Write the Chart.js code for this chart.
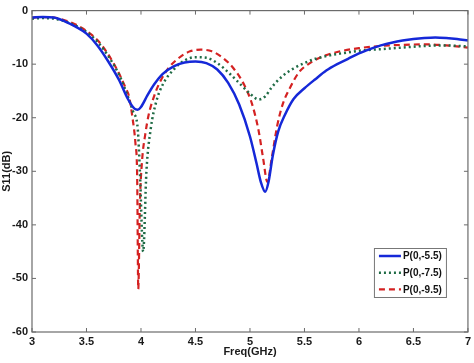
<!DOCTYPE html>
<html>
<head>
<meta charset="utf-8">
<script src="https://cdn.jsdelivr.net/npm/chart.js@4.4.1/dist/chart.umd.min.js"></script>
<style>
  html, body { margin: 0; padding: 0; background: #fff; }
  #wrap { width: 474px; height: 363px; }
</style>
</head>
<body>
<div id="wrap"><canvas id="c"></canvas></div>
<script>
// S11 curves (freq in GHz, S11 in dB)
const freqA = [3.0, 3.1, 3.2, 3.3, 3.4, 3.5, 3.6, 3.7, 3.8, 3.88, 3.94, 3.97, 4.0, 4.06, 4.12, 4.2, 4.3, 4.4, 4.5, 4.6, 4.7, 4.8, 4.9, 5.0, 5.06, 5.1, 5.14, 5.17, 5.21, 5.26, 5.32, 5.4, 5.5, 5.6, 5.7, 5.8, 5.9, 6.0, 6.1, 6.2, 6.3, 6.4, 6.5, 6.6, 6.7, 6.8, 6.9, 7.0];
const s11A  = [-1.3, -1.2, -1.3, -2.0, -3.0, -4.3, -6.5, -9.5, -13.0, -16.5, -18.3, -18.5, -18.0, -15.8, -13.8, -11.8, -10.4, -9.7, -9.5, -9.8, -11.0, -13.5, -17.5, -23.5, -28.5, -32.0, -33.8, -32.0, -27.0, -22.5, -19.5, -16.5, -14.5, -12.8, -11.2, -10.0, -9.0, -8.0, -7.2, -6.5, -6.0, -5.6, -5.3, -5.1, -5.0, -5.1, -5.3, -5.6];

const freqB = [3.0, 3.1, 3.2, 3.3, 3.4, 3.5, 3.6, 3.7, 3.8, 3.87, 3.93, 3.97, 3.99, 4.02, 4.05, 4.09, 4.14, 4.2, 4.3, 4.4, 4.5, 4.6, 4.7, 4.8, 4.9, 5.0, 5.08, 5.14, 5.2, 5.3, 5.4, 5.5, 5.6, 5.7, 5.8, 5.9, 6.0, 6.2, 6.4, 6.6, 6.8, 7.0];
const s11B  = [-1.5, -1.4, -1.5, -2.0, -2.8, -4.0, -5.8, -8.5, -12.0, -15.5, -19.0, -22.0, -30.0, -45.0, -30.0, -22.0, -17.0, -13.8, -11.0, -9.3, -8.7, -8.8, -9.8, -11.5, -13.5, -15.5, -16.6, -16.0, -14.3, -12.2, -10.8, -9.8, -9.0, -8.5, -8.1, -7.8, -7.5, -7.2, -6.9, -6.6, -6.5, -6.7];

const freqC = [3.0, 3.1, 3.2, 3.3, 3.4, 3.5, 3.6, 3.7, 3.8, 3.86, 3.89, 3.92, 3.95, 3.965, 3.975, 3.99, 4.01, 4.04, 4.07, 4.12, 4.17, 4.25, 4.35, 4.45, 4.55, 4.65, 4.75, 4.85, 4.95, 5.02, 5.08, 5.12, 5.16, 5.2, 5.25, 5.3, 5.37, 5.45, 5.55, 5.65, 5.75, 5.85, 6.0, 6.2, 6.4, 6.6, 6.8, 7.0];
const s11C  = [-1.3, -1.2, -1.3, -1.8, -2.6, -3.8, -5.5, -8.2, -11.8, -14.5, -16.0, -19.7, -25.0, -31.0, -52.0, -36.0, -28.0, -23.0, -19.5, -16.0, -13.5, -10.8, -8.8, -7.6, -7.3, -7.6, -8.8, -10.8, -14.0, -17.5, -22.5, -27.5, -32.0, -27.5, -21.5, -17.5, -14.3, -11.5, -9.8, -8.7, -8.0, -7.5, -7.0, -6.6, -6.4, -6.3, -6.5, -6.9];

const seriesLabels = ['P(0,-5.5)', 'P(0,-7.5)', 'P(0,-9.5)'];
const xTicks = [3, 3.5, 4, 4.5, 5, 5.5, 6, 6.5, 7];
const yTicks = [0, -10, -20, -30, -40, -50, -60];

const pts = (xs, ys) => xs.map((x, i) => ({ x: x, y: ys[i] }));

const tickFont = { family: 'Liberation Sans, Arial, sans-serif', size: 11, weight: 'bold' };
const frameColor = '#6b6b6b';

// MATLAB style frame: box on all sides with inward ticks
const framePlugin = {
  id: 'frame',
  afterDatasetsDraw(chart) {
    const { ctx, chartArea: a, scales } = chart;
    ctx.save();
    ctx.strokeStyle = frameColor;
    ctx.lineWidth = 1.2;
    ctx.strokeRect(a.left, a.top, a.right - a.left, a.bottom - a.top);
    ctx.lineWidth = 1;
    ctx.beginPath();
    xTicks.forEach(v => {
      const px = scales.x.getPixelForValue(v);
      ctx.moveTo(px, a.bottom); ctx.lineTo(px, a.bottom - 4);
      ctx.moveTo(px, a.top); ctx.lineTo(px, a.top + 4);
    });
    yTicks.forEach(v => {
      const py = scales.y.getPixelForValue(v);
      ctx.moveTo(a.left, py); ctx.lineTo(a.left + 4, py);
      ctx.moveTo(a.right, py); ctx.lineTo(a.right - 4, py);
    });
    ctx.stroke();
    ctx.restore();
  }
};

// legend box inside the plot, lower right
const legendPlugin = {
  id: 'boxLegend',
  afterDraw(chart) {
    const { ctx, chartArea: a } = chart;
    const left = a.right - 94, top = a.bottom - 84, w = 72, h = 49;
    ctx.save();
    ctx.fillStyle = '#fff';
    ctx.fillRect(left, top, w, h);
    ctx.strokeStyle = '#777';
    ctx.lineWidth = 1;
    ctx.strokeRect(left + 0.5, top + 0.5, w, h);
    ctx.font = 'bold 10px "Liberation Sans", Arial, sans-serif';
    ctx.textBaseline = 'middle';
    chart.data.datasets.forEach((ds, i) => {
      const y = top + 8 + i * 16.7;
      ctx.strokeStyle = ds.borderColor;
      ctx.lineWidth = ds.borderWidth;
      ctx.setLineDash(ds.borderDash || []);
      ctx.beginPath();
      ctx.moveTo(left + 5, y);
      ctx.lineTo(left + 27, y);
      ctx.stroke();
      ctx.setLineDash([]);
      ctx.fillStyle = '#111';
      ctx.fillText(ds.label, left + 29, y + 0.5);
    });
    ctx.restore();
  }
};

new Chart(document.getElementById('c'), {
  type: 'line',
  data: {
    datasets: [
      {
        label: seriesLabels[0],
        data: pts(freqA, s11A),
        borderColor: '#1528d8',
        borderWidth: 2.5,
        pointRadius: 0,
        cubicInterpolationMode: 'monotone',
        fill: false
      },
      {
        label: seriesLabels[1],
        data: pts(freqB, s11B),
        borderColor: '#1f6b45',
        borderWidth: 2.5,
        borderDash: [2, 3],
        pointRadius: 0,
        cubicInterpolationMode: 'monotone',
        fill: false
      },
      {
        label: seriesLabels[2],
        data: pts(freqC, s11C),
        borderColor: '#d42222',
        borderWidth: 2.2,
        borderDash: [6, 4],
        pointRadius: 0,
        cubicInterpolationMode: 'monotone',
        fill: false
      }
    ]
  },
  options: {
    responsive: true,
    maintainAspectRatio: false,
    animation: false,
    layout: { padding: { top: 5, right: 3, left: 0, bottom: 0 } },
    scales: {
      x: {
        type: 'linear',
        min: 3,
        max: 7,
        afterBuildTicks: s => { s.ticks = xTicks.map(v => ({ value: v })); },
        afterFit: s => { s.height = 31; },
        ticks: {
          font: tickFont,
          color: '#1a1a1a',
          padding: 3,
          maxRotation: 0,
          callback: v => String(v)
        },
        grid: { display: false, drawTicks: false },
        border: { display: false },
        title: {
          display: true,
          text: 'Freq(GHz)',
          font: tickFont,
          color: '#1a1a1a',
          padding: { top: 0, bottom: 4 }
        }
      },
      y: {
        type: 'linear',
        min: -60,
        max: 0,
        afterBuildTicks: s => { s.ticks = yTicks.map(v => ({ value: v })); },
        afterFit: s => { s.width = 32; },
        ticks: { font: tickFont, color: '#1a1a1a', padding: 4, callback: v => String(v) },
        grid: { display: false, drawTicks: false },
        border: { display: false },
        title: {
          display: true,
          text: 'S11(dB)',
          font: tickFont,
          color: '#1a1a1a',
          padding: { top: 0, bottom: 0 }
        }
      }
    },
    plugins: {
      legend: { display: false },
      tooltip: { enabled: false }
    }
  },
  plugins: [framePlugin, legendPlugin]
});
</script>
</body>
</html>
